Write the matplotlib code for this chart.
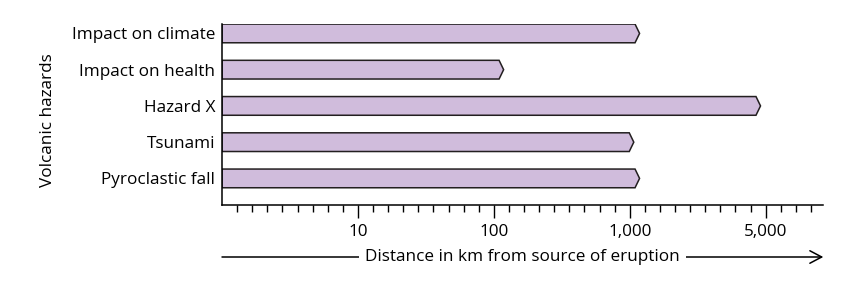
import numpy as np
import matplotlib
matplotlib.use("Agg")
import matplotlib.pyplot as plt
from matplotlib.patches import Polygon
from matplotlib.ticker import FixedLocator, NullFormatter

plt.rcParams['font.family'] = ['Open Sans', 'DejaVu Sans']

# ---- data ----
hazards = ["Impact on climate", "Impact on health", "Hazard X", "Tsunami", "Pyroclastic fall"]
distance_km = [1290, 165, 4850, 1120, 1290]
tick_values = [10, 100, 1000, 5000]
tick_labels = ["10", "100", "1,000", "5,000"]

# piecewise scale: each labelled interval gets equal width, linear inside
break_vals = np.array([1, 10, 100, 1000, 5000, 9000], dtype=float)
break_pos = np.array([0, 9, 18, 27, 36, 45], dtype=float)

def fwd(v):
    return np.interp(np.asarray(v, dtype=float), break_vals, break_pos)

def inv(p):
    return np.interp(np.asarray(p, dtype=float), break_pos, break_vals)

FS = 12.3
W, H = 867, 296
fig = plt.figure(figsize=(W / 100, H / 100), dpi=100)
ax = fig.add_axes([222 / W, 1 - 204.5 / H, (823 - 222) / W, (204.5 - 24) / H])
ax.set_xscale('function', functions=(fwd, inv))

n = len(hazards)
ypos = np.arange(n)[::-1]
bar_h = 0.516
tip = 0.3
for y, v in zip(ypos, distance_km):
    x0 = inv(0)
    xb = float(inv(fwd(v) - tip))
    verts = [(x0, y - bar_h / 2), (xb, y - bar_h / 2), (v, y),
             (xb, y + bar_h / 2), (x0, y + bar_h / 2)]
    ax.add_patch(Polygon(verts, closed=True, facecolor='#D0BCDC',
                         edgecolor='#231F20', lw=1.1, joinstyle='miter', zorder=2))

ax.set_xlim(inv(0), inv(39.8))
ax.set_ylim(-0.72, n - 1 + 0.26)

ax.set_yticks(ypos)
ax.set_yticklabels(hazards, fontsize=FS)
ax.tick_params(axis='y', length=0, pad=5)

ax.xaxis.set_major_locator(FixedLocator(tick_values))
ax.set_xticklabels(tick_labels, fontsize=FS)
minor_pos = [p for p in range(1, 40) if p % 9 != 0]
ax.xaxis.set_minor_locator(FixedLocator(inv(minor_pos)))
ax.xaxis.set_minor_formatter(NullFormatter())
ax.tick_params(axis='x', which='major', length=9.4, width=1.0, pad=5)
ax.tick_params(axis='x', which='minor', length=5, width=1.0)

for s in ['top', 'right']:
    ax.spines[s].set_visible(False)
for s in ['left', 'bottom']:
    ax.spines[s].set_linewidth(1.1)

ax.set_ylabel("Volcanic hazards", fontsize=FS)
ax.yaxis.set_label_coords((56 - 222) / (823 - 222), 0.47)

ylab = (204.5 - 257) / (204.5 - 24)
ax.set_xlabel("Distance in km from source of eruption", fontsize=FS, va='center',
              bbox=dict(facecolor='white', edgecolor='none', pad=4))
ax.xaxis.set_label_coords(0.5, ylab)
ax.annotate('', xy=(1.0005, ylab), xytext=(0, ylab), xycoords='axes fraction',
            arrowprops=dict(arrowstyle='->,head_length=0.85,head_width=0.45',
                            lw=1.1, color='black', shrinkA=0, shrinkB=0,
                            mutation_scale=10),
            zorder=0.5, annotation_clip=False)

fig.savefig("out.png", dpi=100)
